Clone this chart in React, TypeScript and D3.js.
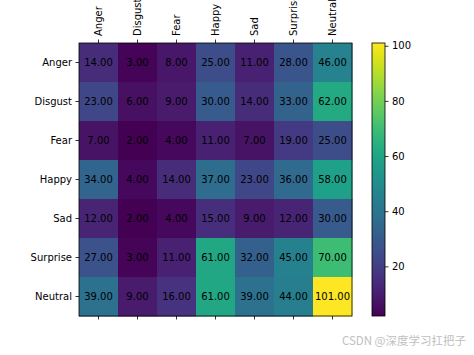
import React, { useEffect, useRef } from 'react';
import * as d3 from 'd3';

const emotions = ['Anger', 'Disgust', 'Fear', 'Happy', 'Sad', 'Surprise', 'Neutral'];
const anger = [14, 3, 8, 25, 11, 28, 46];
const disgust = [23, 6, 9, 30, 14, 33, 62];
const fear = [7, 2, 4, 11, 7, 19, 25];
const happy = [34, 4, 14, 37, 23, 36, 58];
const sad = [12, 2, 4, 15, 9, 12, 30];
const surprise = [27, 3, 11, 61, 32, 45, 70];
const neutral = [39, 9, 16, 61, 39, 44, 101];
const matrix = [anger, disgust, fear, happy, sad, surprise, neutral];
const colorTicks = [20, 40, 60, 80, 100];

export default function App() {
  const svgRef = useRef<SVGSVGElement>(null);

  useEffect(() => {
    const svg = d3.select(svgRef.current);
    svg.selectAll('*').remove();
    const font = 'DejaVu Sans, sans-serif';

    const left = 79, top = 43, size = 273;
    const x = d3.scaleBand().domain(emotions).range([left, left + size]);
    const y = d3.scaleBand().domain(emotions).range([top, top + size]);
    const all = matrix.flat();
    const color = d3.scaleSequential(d3.interpolateViridis)
      .domain([d3.min(all)!, d3.max(all)!]);

    const cells = matrix.flatMap((row, i) => row.map((v, j) => ({ r: emotions[i], c: emotions[j], v })));

    svg.append('g').selectAll('rect').data(cells).join('rect')
      .attr('x', d => x(d.c)!)
      .attr('y', d => y(d.r)!)
      .attr('width', x.bandwidth() + 0.5)
      .attr('height', y.bandwidth() + 0.5)
      .attr('fill', d => color(d.v));

    svg.append('g').selectAll('text').data(cells).join('text')
      .attr('x', d => x(d.c)! + x.bandwidth() / 2)
      .attr('y', d => y(d.r)! + y.bandwidth() / 2)
      .attr('text-anchor', 'middle')
      .attr('dominant-baseline', 'central')
      .attr('font-family', font)
      .attr('font-size', 10)
      .attr('fill', 'black')
      .text(d => d.v.toFixed(2));

    svg.append('rect')
      .attr('x', left).attr('y', top).attr('width', size).attr('height', size)
      .attr('fill', 'none').attr('stroke', 'black').attr('stroke-width', 0.8);

    const styleAxis = (g: any) => {
      g.select('.domain').remove();
      g.selectAll('line').attr('stroke', 'black').attr('stroke-width', 0.8);
      g.selectAll('text').attr('font-family', font).attr('font-size', 10).attr('fill', 'black');
    };

    // top axis with rotated labels
    const topAxis = svg.append('g')
      .attr('transform', `translate(0,${top})`)
      .call(d3.axisTop(x).tickSize(3.5).tickPadding(3.5));
    styleAxis(topAxis);
    topAxis.selectAll('text')
      .attr('transform', 'rotate(-90)')
      .attr('text-anchor', 'start')
      .attr('dy', '0.35em')
      .attr('x', 7)
      .attr('y', 0);

    // bottom ticks, no labels
    const bottomAxis = svg.append('g')
      .attr('transform', `translate(0,${top + size})`)
      .call(d3.axisBottom(x).tickSize(3.5).tickFormat(() => ''));
    styleAxis(bottomAxis);

    const leftAxis = svg.append('g')
      .attr('transform', `translate(${left},0)`)
      .call(d3.axisLeft(y).tickSize(3.5).tickPadding(3.5));
    styleAxis(leftAxis);

    // colorbar
    const cbX = 372, cbW = 13;
    const cy = d3.scaleLinear().domain(color.domain()).range([top + size, top]);
    const defs = svg.append('defs');
    const grad = defs.append('linearGradient').attr('id', 'cb')
      .attr('x1', 0).attr('y1', 1).attr('x2', 0).attr('y2', 0);
    d3.range(0, 1.001, 0.05).forEach(t => {
      grad.append('stop').attr('offset', t).attr('stop-color', d3.interpolateViridis(t));
    });
    svg.append('rect')
      .attr('x', cbX).attr('y', top).attr('width', cbW).attr('height', size)
      .attr('fill', 'url(#cb)').attr('stroke', 'black').attr('stroke-width', 0.8);
    const cbAxis = svg.append('g')
      .attr('transform', `translate(${cbX + cbW},0)`)
      .call(d3.axisRight(cy).tickValues(colorTicks).tickSize(3.5).tickPadding(3.5));
    styleAxis(cbAxis);

    svg.append('text')
      .attr('x', 466).attr('y', 345)
      .attr('text-anchor', 'end')
      .attr('font-family', 'Noto Sans CJK SC, sans-serif')
      .attr('font-size', 11.5)
      .attr('fill', '#c0c0c0')
      .text('CSDN @深度学习扛把子');
  }, []);

  return (
    <svg ref={svgRef} width={474} height={355}
      style={{ position: 'absolute', left: 0, top: 0, background: 'white' }} />
  );
}
